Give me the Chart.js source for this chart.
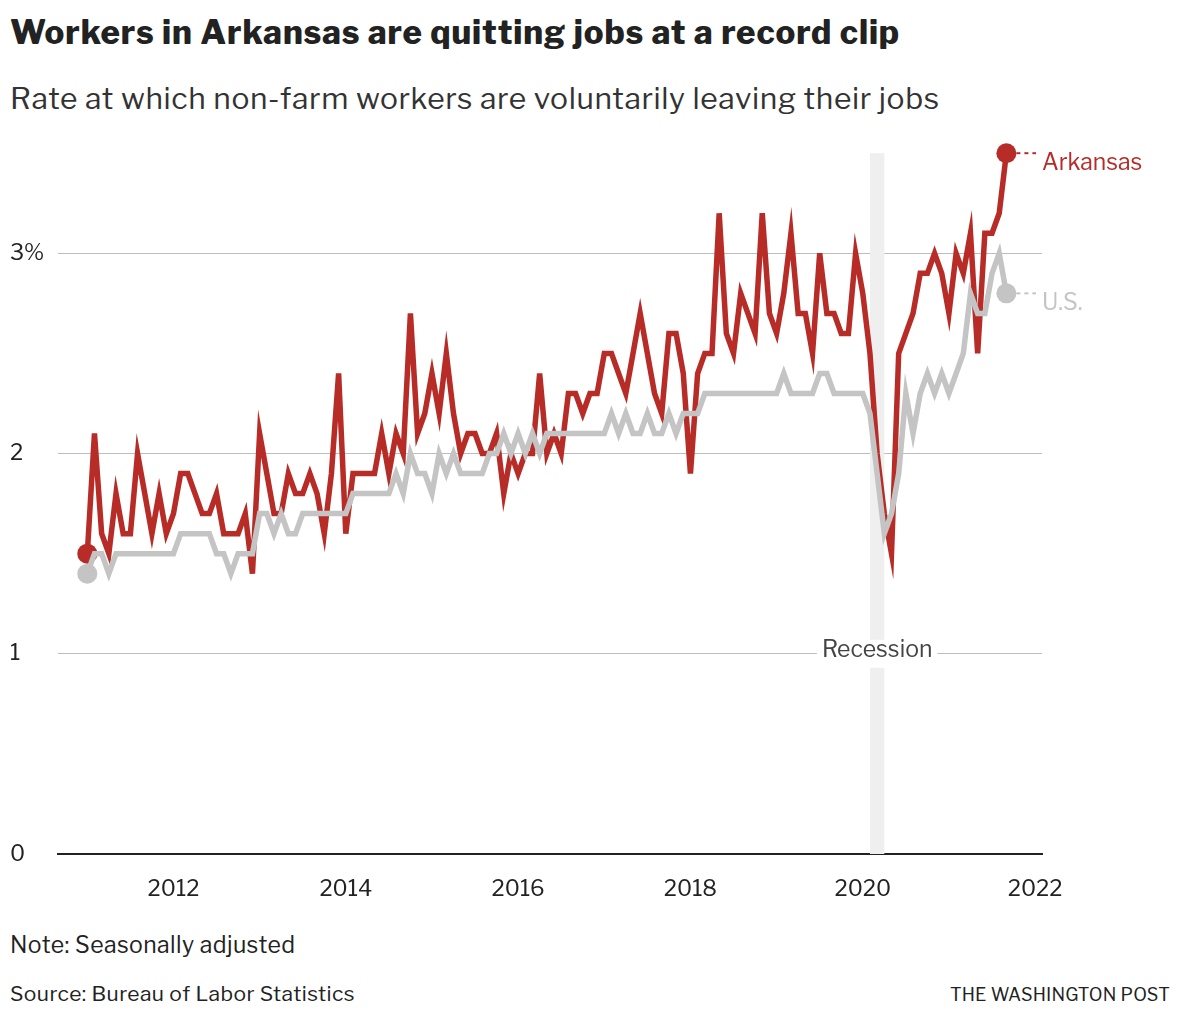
<!DOCTYPE html>
<html>
<head>
<meta charset="utf-8">
<script src="https://cdn.jsdelivr.net/npm/chart.js@4.4.0/dist/chart.umd.min.js"></script>
<style>
  body { margin: 0; background: #fff; font-family: "Libre Franklin", "Noto Sans", sans-serif; color: #222; }
  h1 { position: absolute; left: 10px; top: 12px; margin: 0; font-size: 33px; font-weight: 800; letter-spacing: 0.9px; white-space: nowrap; }
  .sub { position: absolute; left: 10px; top: 80px; font-size: 30px; color: #333; letter-spacing: 0.6px; white-space: nowrap; }
  #wrap { position: absolute; left: 0; top: 130px; width: 1180px; height: 780px; }
  .note { position: absolute; left: 10px; font-size: 23px; color: #222; letter-spacing: 0.4px; white-space: nowrap; }
  .wp { position: absolute; right: 10px; top: 984px; font-size: 18px; letter-spacing: 0.2px; }
</style>
</head>
<body>
<h1>Workers in Arkansas are quitting jobs at a record clip</h1>
<div class="sub">Rate at which non-farm workers are voluntarily leaving their jobs</div>
<div id="wrap"><canvas id="quitsChart"></canvas></div>
<div class="note" style="top:931px">Note: Seasonally adjusted</div>
<div class="note" style="top:981px; font-size:21px">Source: Bureau of Labor Statistics</div>
<div class="wp">THE WASHINGTON POST</div>
<script>
// Monthly, Jan 2011 - Sep 2021
const startYear = 2011;
const arkansas = [
  1.5, 2.1, 1.6, 1.5, 1.8, 1.6, 1.6, 2.0, 1.8, 1.6, 1.8, 1.6,
  1.7, 1.9, 1.9, 1.8, 1.7, 1.7, 1.8, 1.6, 1.6, 1.6, 1.7, 1.4,
  2.1, 1.9, 1.7, 1.7, 1.9, 1.8, 1.8, 1.9, 1.8, 1.6, 1.9, 2.4,
  1.6, 1.9, 1.9, 1.9, 1.9, 2.1, 1.9, 2.1, 2.0, 2.7, 2.1, 2.2,
  2.4, 2.2, 2.5, 2.2, 2.0, 2.1, 2.1, 2.0, 2.0, 2.1, 1.8, 2.0,
  1.9, 2.0, 2.0, 2.4, 2.0, 2.1, 2.0, 2.3, 2.3, 2.2, 2.3, 2.3,
  2.5, 2.5, 2.4, 2.3, 2.5, 2.7, 2.5, 2.3, 2.2, 2.6, 2.6, 2.4,
  1.9, 2.4, 2.5, 2.5, 3.2, 2.6, 2.5, 2.8, 2.7, 2.6, 3.2, 2.7,
  2.6, 2.8, 3.1, 2.7, 2.7, 2.5, 3.0, 2.7, 2.7, 2.6, 2.6, 3.0,
  2.8, 2.5, 2.0, 1.7, 1.5, 2.5, 2.6, 2.7, 2.9, 2.9, 3.0, 2.9,
  2.7, 3.0, 2.9, 3.1, 2.5, 3.1, 3.1, 3.2, 3.5
];
const us = [
  1.4, 1.5, 1.5, 1.4, 1.5, 1.5, 1.5, 1.5, 1.5, 1.5, 1.5, 1.5,
  1.5, 1.6, 1.6, 1.6, 1.6, 1.6, 1.5, 1.5, 1.4, 1.5, 1.5, 1.5,
  1.7, 1.7, 1.6, 1.7, 1.6, 1.6, 1.7, 1.7, 1.7, 1.7, 1.7, 1.7,
  1.7, 1.8, 1.8, 1.8, 1.8, 1.8, 1.8, 1.9, 1.8, 2.0, 1.9, 1.9,
  1.8, 2.0, 1.9, 2.0, 1.9, 1.9, 1.9, 1.9, 2.0, 2.0, 2.1, 2.0,
  2.1, 2.0, 2.1, 2.0, 2.1, 2.1, 2.1, 2.1, 2.1, 2.1, 2.1, 2.1,
  2.1, 2.2, 2.1, 2.2, 2.1, 2.1, 2.2, 2.1, 2.1, 2.2, 2.1, 2.2,
  2.2, 2.2, 2.3, 2.3, 2.3, 2.3, 2.3, 2.3, 2.3, 2.3, 2.3, 2.3,
  2.3, 2.4, 2.3, 2.3, 2.3, 2.3, 2.4, 2.4, 2.3, 2.3, 2.3, 2.3,
  2.3, 2.2, 1.9, 1.6, 1.7, 1.9, 2.3, 2.1, 2.3, 2.4, 2.3, 2.4,
  2.3, 2.4, 2.5, 2.8, 2.7, 2.7, 2.9, 3.0, 2.8
];
const xTicks = [2012, 2014, 2016, 2018, 2020, 2022];
const yTicks = [0, 1, 2, 3];
const recession = [2020 + 1 / 12, 2020 + 3 / 12];

const RED = '#b72c27';
const GRAY = '#c4c4c4';
const FONT = '"Libre Franklin", "Noto Sans", sans-serif';

function toPoints(arr) {
  return arr.map(function(v, i) { return { x: startYear + i / 12, y: v }; });
}
function endDots(arr, r) {
  return arr.map(function(v, i) { return (i === 0 || i === arr.length - 1) ? r : 0; });
}

// recession band, end labels
const decorations = {
  id: 'decorations',
  beforeDatasetsDraw(chart) {
    const c = chart.ctx, xs = chart.scales.x, ys = chart.scales.y;
    const a = xs.getPixelForValue(recession[0]), b = xs.getPixelForValue(recession[1]);
    c.save();
    c.fillStyle = '#efefef';
    c.fillRect(a, chart.chartArea.top, b - a, chart.chartArea.bottom - chart.chartArea.top);
    const mid = (a + b) / 2, yy = ys.getPixelForValue(1);
    c.font = '23px ' + FONT;
    const w = c.measureText('Recession').width;
    c.fillStyle = '#fff';
    c.fillRect(mid - w / 2 - 5, yy - 14, w + 10, 28);
    c.fillStyle = '#444';
    c.textAlign = 'center';
    c.textBaseline = 'middle';
    c.fillText('Recession', mid, yy - 4);
    c.restore();
  },
  afterDatasetsDraw(chart) {
    const c = chart.ctx, xs = chart.scales.x, ys = chart.scales.y;
    const n = arkansas.length - 1;
    const xe = xs.getPixelForValue(startYear + n / 12);
    c.save();
    c.font = '23px ' + FONT;
    c.textBaseline = 'middle';
    [[arkansas[n], RED, 'Arkansas'], [us[n], GRAY, 'U.S.']].forEach(function(d) {
      const y = ys.getPixelForValue(d[0]);
      c.strokeStyle = d[1];
      c.lineWidth = 2;
      c.setLineDash([4, 4]);
      c.beginPath();
      c.moveTo(xe + 10, y);
      c.lineTo(1036, y);
      c.stroke();
      c.fillStyle = d[1];
      c.fillText(d[2], 1042, y + 10);
    });
    c.restore();
  }
};

new Chart(document.getElementById('quitsChart'), {
  type: 'line',
  data: {
    datasets: [
      { label: 'U.S.', data: toPoints(us), borderColor: GRAY, backgroundColor: GRAY, clip: false,
        borderWidth: 5.5, pointRadius: endDots(us, 10), pointBorderWidth: 0, tension: 0 },
      { label: 'Arkansas', data: toPoints(arkansas), borderColor: RED, backgroundColor: RED, clip: false,
        borderWidth: 5.5, pointRadius: endDots(arkansas, 10), pointBorderWidth: 0, tension: 0 }
    ]
  },
  options: {
    responsive: true,
    maintainAspectRatio: false,
    animation: { duration: 0 },
    layout: { padding: { top: 19, right: 138, left: 10, bottom: 0 } },
    plugins: { legend: { display: false }, tooltip: { enabled: false } },
    scales: {
      x: {
        type: 'linear', min: 2010.66, max: 2022.08,
        afterBuildTicks(s) { s.ticks = xTicks.map(function(v) { return { value: v }; }); },
        afterFit(s) { s.height = 56; },
        grid: { display: false },
        border: { color: '#222', width: 2 },
        ticks: { color: '#222', font: { family: FONT, size: 22 }, padding: 14, callback: function(v) { return v; } }
      },
      y: {
        min: 0, max: 3.5,
        afterBuildTicks(s) { s.ticks = yTicks.map(function(v) { return { value: v }; }); },
        afterFit(s) { s.width = 48; },
        border: { display: false },
        grid: { color: '#bdbdbd', lineWidth: 1, drawTicks: false },
        ticks: { color: '#222', font: { family: FONT, size: 22 }, crossAlign: 'far', padding: 10,
          callback: function(v) { return v === 3 ? '3%' : v; } }
      }
    }
  },
  plugins: [decorations]
});
</script>
</body>
</html>
